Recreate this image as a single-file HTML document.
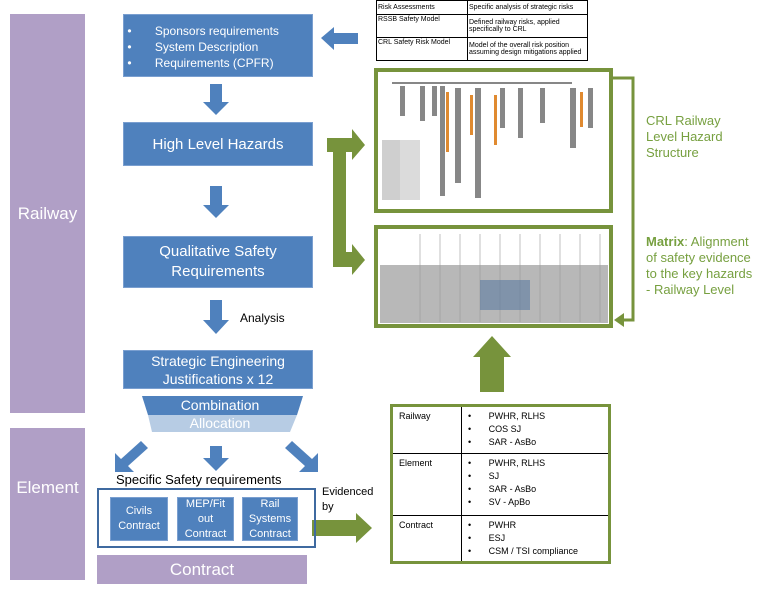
<!DOCTYPE html>
<html><head><meta charset="utf-8"><style>
body{margin:0;width:768px;height:594px;background:#fff;position:relative;overflow:hidden;font-family:"Liberation Sans",sans-serif}
.a{position:absolute;box-sizing:border-box}
.pur{background:#b09fc6;color:#fff;display:flex;align-items:center;justify-content:center;font-size:17px}
.blu{background:#4f81bd;color:#fff;display:flex;align-items:center;justify-content:center;text-align:center;border:1px solid #7a9fd0}
.t{position:absolute;font-size:9px;color:#000}
table{border-collapse:collapse}
</style></head><body>
<div class="a pur" style="left:10px;top:14px;width:75px;height:399px">Railway</div>
<div class="a pur" style="left:10px;top:428px;width:75px;height:152px;align-items:flex-start;padding-top:50px">Element</div>
<div class="a pur" style="left:97px;top:555px;width:210px;height:29px;font-size:17px">Contract</div>

<div class="a blu" style="left:123px;top:14px;width:190px;height:63px;display:block;font-size:12px;line-height:16px;padding-top:8px;text-align:left">
<div>&nbsp;•&nbsp;&nbsp;&nbsp;&nbsp;&nbsp;&nbsp;&nbsp;Sponsors requirements</div>
<div>&nbsp;•&nbsp;&nbsp;&nbsp;&nbsp;&nbsp;&nbsp;&nbsp;System Description</div>
<div>&nbsp;•&nbsp;&nbsp;&nbsp;&nbsp;&nbsp;&nbsp;&nbsp;Requirements (CPFR)</div></div>
<div class="a blu" style="left:123px;top:122px;width:190px;height:44px;font-size:15px">High Level Hazards</div>
<div class="a blu" style="left:123px;top:236px;width:190px;height:52px;font-size:15px;line-height:20px">Qualitative Safety<br>Requirements</div>
<div class="a blu" style="left:123px;top:350px;width:190px;height:39px;font-size:14px;line-height:18px">Strategic Engineering<br>Justifications x 12</div>
<div class="t" style="left:240px;top:311px;font-size:12px">Analysis</div>

<svg class="a" style="left:0;top:0" width="768" height="594">
<g fill="#4f81bd">
<polygon points="321,38 334,27 334,33 358,33 358,44 334,44 334,50"/>
<polygon points="210,84 222,84 222,102 229,102 216,115 203,102 210,102"/>
<polygon points="210,186 222,186 222,205 229,205 216,218 203,205 210,205"/>
<polygon points="210,300 222,300 222,320 229,320 216,334 203,320 210,320"/>
<polygon points="142,396 303,396 297,415 148,415"/>
<polygon points="210,446 222,446 222,458 229,458 216,471 203,458 210,458"/>
<polygon points="141,441 148,448 128,466 134,472 115,472 115,453 121,459"/>
<polygon points="292,441 285,448 305,466 299,472 318,472 318,453 312,459"/>
</g>
<polygon points="148,415 297,415 290,432 152,432" fill="#b7cce4"/>
<g fill="#77933c">
<polygon points="312,520 356,520 356,513 372,528 356,543 356,536 312,536"/>
<polygon points="480,392 480,357 473,357 492,336 511,357 504,357 504,392"/>
<polygon points="333,152 327,152 327,138 352,138 352,129 365,145 352,160 352,152 346,152 346,252 352,252 352,244 365,260 352,275 352,267 333,267"/>
</g>
<polyline points="612,78 633,78 633,320 622,320" fill="none" stroke="#77933c" stroke-width="3"/>
<polygon points="614,320 624,313 624,327" fill="#77933c"/>
<g fill="#fff" stroke="#77933c" stroke-width="4">
<rect x="376" y="70" width="235" height="141"/>
<rect x="376" y="227" width="235" height="99"/>
</g>
<g fill="#555" opacity="0.7">
<rect x="392" y="82" width="180" height="2"/>
<rect x="400" y="86" width="5" height="30"/><rect x="420" y="86" width="5" height="35"/><rect x="432" y="86" width="5" height="30"/>
<rect x="440" y="86" width="5" height="110"/><rect x="455" y="88" width="6" height="95"/><rect x="475" y="88" width="6" height="110"/>
<rect x="500" y="88" width="5" height="40"/><rect x="518" y="88" width="5" height="50"/><rect x="540" y="88" width="5" height="35"/>
<rect x="570" y="88" width="6" height="60"/><rect x="588" y="88" width="5" height="40"/>
<rect x="382" y="140" width="20" height="60" fill="#bbb"/><rect x="400" y="140" width="20" height="60" fill="#ccc"/>
</g>
<g fill="#e08a30"><rect x="446" y="92" width="3" height="60"/><rect x="470" y="95" width="3" height="40"/><rect x="494" y="95" width="3" height="50"/><rect x="580" y="92" width="3" height="35"/></g>
<rect x="380" y="265" width="228" height="58" fill="#888" opacity="0.6"/>
<g stroke="#999" stroke-width="0.6">
<line x1="420" y1="234" x2="420" y2="322"/><line x1="440" y1="234" x2="440" y2="322"/><line x1="460" y1="234" x2="460" y2="322"/><line x1="480" y1="234" x2="480" y2="322"/><line x1="500" y1="234" x2="500" y2="322"/><line x1="520" y1="234" x2="520" y2="322"/><line x1="540" y1="234" x2="540" y2="322"/><line x1="560" y1="234" x2="560" y2="322"/><line x1="580" y1="234" x2="580" y2="322"/><line x1="600" y1="234" x2="600" y2="322"/>
</g>
<rect x="480" y="280" width="50" height="30" fill="#5a7aa0" opacity="0.6"/>
</svg>

<div class="a" style="left:150px;top:397px;width:140px;text-align:center;color:#fff;font-size:14px">Combination</div>
<div class="a" style="left:150px;top:415px;width:140px;text-align:center;color:#fff;font-size:14px">Allocation</div>
<div class="t" style="left:116px;top:472px;font-size:13px">Specific Safety requirements</div>
<div class="a" style="left:97px;top:488px;width:219px;height:60px;border:2px solid #3f6aa0"></div>
<div class="a blu" style="left:110px;top:497px;width:58px;height:44px;font-size:11px;line-height:15px">Civils<br>Contract</div>
<div class="a blu" style="left:177px;top:497px;width:57px;height:44px;font-size:11px;line-height:15px">MEP/Fit<br>out<br>Contract</div>
<div class="a blu" style="left:242px;top:497px;width:56px;height:44px;font-size:11px;line-height:15px">Rail<br>Systems<br>Contract</div>
<div class="t" style="left:322px;top:485px;font-size:11px;line-height:15px">Evidenced<br>by</div>

<table class="a" style="left:376px;top:0;width:212px;font-size:7px;border:1px solid #000">
<tr><td style="border:1px solid #000;width:88px;height:11px">Risk Assessments</td><td style="border:1px solid #000">Specific analysis of strategic risks</td></tr>
<tr><td style="border:1px solid #000;vertical-align:top;height:20px">RSSB Safety Model</td><td style="border:1px solid #000">Defined railway risks, applied specifically to CRL</td></tr>
<tr><td style="border:1px solid #000;vertical-align:top;height:20px">CRL Safety Risk Model</td><td style="border:1px solid #000">Model of the overall risk position assuming design mitigations applied</td></tr>
</table>

<table class="a" style="left:390px;top:404px;width:221px;height:160px;font-size:9px;border:3px solid #77933c">
<tr style="height:48px"><td style="border:1px solid #000;border-top:none;border-left:none;vertical-align:top;width:56px;padding:4px 6px">Railway</td><td style="border-bottom:1px solid #000;vertical-align:top;padding:3px 6px;line-height:13px">•&nbsp;&nbsp;&nbsp;&nbsp;&nbsp;&nbsp;&nbsp;PWHR, RLHS<br>•&nbsp;&nbsp;&nbsp;&nbsp;&nbsp;&nbsp;&nbsp;COS SJ<br>•&nbsp;&nbsp;&nbsp;&nbsp;&nbsp;&nbsp;&nbsp;SAR - AsBo</td></tr>
<tr style="height:62px"><td style="border:1px solid #000;border-left:none;vertical-align:top;padding:4px 6px">Element</td><td style="border-bottom:1px solid #000;vertical-align:top;padding:3px 6px;line-height:13px">•&nbsp;&nbsp;&nbsp;&nbsp;&nbsp;&nbsp;&nbsp;PWHR, RLHS<br>•&nbsp;&nbsp;&nbsp;&nbsp;&nbsp;&nbsp;&nbsp;SJ<br>•&nbsp;&nbsp;&nbsp;&nbsp;&nbsp;&nbsp;&nbsp;SAR - AsBo<br>•&nbsp;&nbsp;&nbsp;&nbsp;&nbsp;&nbsp;&nbsp;SV - ApBo</td></tr>
<tr><td style="border-right:1px solid #000;vertical-align:top;padding:4px 6px">Contract</td><td style="vertical-align:top;padding:3px 6px;line-height:13px">•&nbsp;&nbsp;&nbsp;&nbsp;&nbsp;&nbsp;&nbsp;PWHR<br>•&nbsp;&nbsp;&nbsp;&nbsp;&nbsp;&nbsp;&nbsp;ESJ<br>•&nbsp;&nbsp;&nbsp;&nbsp;&nbsp;&nbsp;&nbsp;CSM / TSI compliance</td></tr>
</table>

<div class="a" style="left:646px;top:113px;color:#77a040;font-size:13px;line-height:16px">CRL Railway<br>Level Hazard<br>Structure</div>
<div class="a" style="left:646px;top:234px;color:#77a040;font-size:13px;line-height:16px"><b>Matrix</b>: Alignment<br>of safety evidence<br>to the key hazards<br>- Railway Level</div>
</body></html>
